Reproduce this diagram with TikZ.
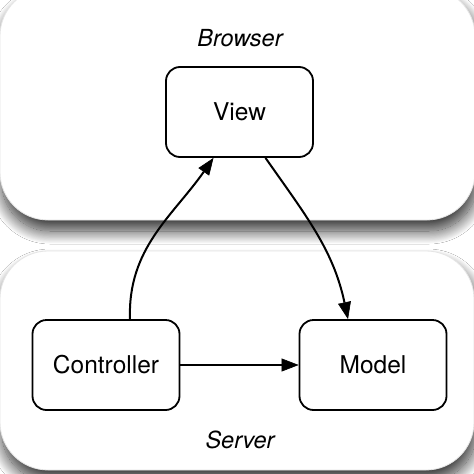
\documentclass[tikz,border=0pt]{standalone}
\usepackage{fontspec}
\setmainfont{TeX Gyre Heros}
\usetikzlibrary{arrows.meta,shadows.blur}
\begin{document}
\begin{tikzpicture}[x=1pt,y=-1pt,
  region/.style={draw=black!10, line width=0.8pt, fill=white, rounded corners=48pt,
    blur shadow={shadow xshift=2pt, shadow yshift=-11pt, shadow blur radius=13pt, shadow opacity=80, shadow blur steps=24}},
  mvc/.style={draw=black, line width=1.8pt, rounded corners=14pt, fill=white,
    minimum width=147pt, minimum height=90pt, inner sep=0pt, font=\fontsize{24.5}{28}\selectfont},
  lbl/.style={font=\fontsize{23.5}{27}\selectfont\itshape},
  conn/.style={draw=black, line width=2pt, -{Triangle[length=17pt,width=13pt,fill=black,line width=0.6pt]}}]
\useasboundingbox (0,0) rectangle (474,474);
\fill[white] (0,0) rectangle (474,474);
\path[region] (0,-12) rectangle (475,220);
\path[region] (0,251) rectangle (474,470);
\node[lbl] (browser) at (240,38) {Browser};
\node[lbl] (server) at (240,440) {Server};
\node[mvc] (view) at (239.5,112) {View};
\node[mvc] (controller) at (106,365) {Controller};
\node[mvc] (model) at (373,365) {Model};
\draw[conn] ([xshift=24pt]controller.north) to[out=92,in=235] ([xshift=-26pt]view.south);
\draw[conn] ([xshift=26pt]view.south) to[out=-55,in=102] ([xshift=-25pt]model.north);
\draw[conn] (controller.east) -- (model.west);
\end{tikzpicture}
\end{document}
